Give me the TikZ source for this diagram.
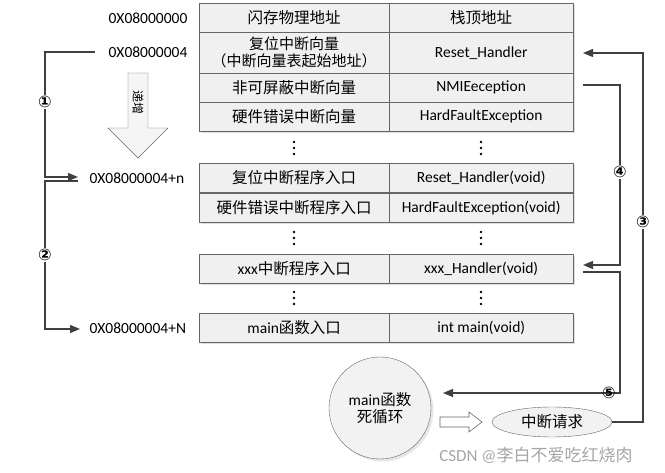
\documentclass[tikz,border=0pt]{standalone}
\usepackage{fontspec}
\setmainfont{Carlito}
\newfontfamily\cjk{Noto Sans CJK SC}
\newfontfamily\dvs{DejaVu Sans}
\usetikzlibrary{arrows.meta,shapes.geometric,shadows}
\begin{document}
\begin{tikzpicture}[x=1pt,y=-1pt,font=\fontsize{15.5}{17}\selectfont,
  cell/.style={draw=black!60,fill=black!6,minimum height=29pt,inner sep=0pt,anchor=north west,align=center,drop shadow={opacity=0.25,shadow xshift=1.5pt,shadow yshift=-1.5pt}},
  lc/.style={cell,minimum width=190pt},
  rc/.style={cell,minimum width=184pt},
  conn/.style={draw=black!75,line width=1.2pt,-{Triangle[length=10pt,width=8pt]}},
  num/.style={fill=white,inner sep=1pt,font=\dvs\bfseries\fontsize{16}{16}\selectfont},
  addr/.style={font=\fontsize{15.5}{17}\selectfont},
  dotc/.style={fill=black,circle,inner sep=0pt,minimum size=2.8pt}]
\useasboundingbox (0,0) rectangle (665,473);
% rows
\node[lc] (l1) at (199,3) {\cjk 闪存物理地址};
\node[rc] (r1) at (389,3) {\cjk 栈顶地址};
\node[lc,minimum height=41pt,font=\fontsize{15}{17}\selectfont] (l2) at (199,32) {\cjk 复位中断向量\\\cjk （中断向量表起始地址）};
\node[rc,minimum height=41pt] (r2) at (389,32) {Reset\_Handler};
\node[lc] (l3) at (199,73) {\cjk 非可屏蔽中断向量};
\node[rc] (r3) at (389,73) {NMIEeception};
\node[lc] (l4) at (199,102) {\cjk 硬件错误中断向量};
\node[rc] (r4) at (389,102) {HardFaultException};
\node[lc] (l5) at (199,163) {\cjk 复位中断程序入口};
\node[rc] (r5) at (389,163) {Reset\_Handler(void)};
\node[lc] (l6) at (199,193) {\cjk 硬件错误中断程序入口};
\node[rc] (r6) at (389,193) {HardFaultException(void)};
\node[lc] (l7) at (199,254) {xxx{\cjk 中断程序入口}};
\node[rc] (r7) at (389,254) {xxx\_Handler(void)};
\node[lc] (l8) at (199,313) {main{\cjk 函数入口}};
\node[rc] (r8) at (389,313) {int main(void)};
% dots
\foreach \y/\n in {148/a,238/b,298/c}{
  \foreach \x/\s in {294/l,481/r}{
    \node[dotc] (d\s\n1) at (\x,\y-6) {};
    \node[dotc] (d\s\n2) at (\x,\y) {};
    \node[dotc] (d\s\n3) at (\x,\y+6) {};
  }
}
% addresses
\node[addr] (a0) at (148,18) {0X08000000};
\node[addr] (a1) at (148,52) {0X08000004};
\node[addr,anchor=west] (a2) at (86,178) {0X08000004+n};
\node[addr,anchor=west] (a3) at (86,328) {0X08000004+N};
% increasing arrow
\draw[draw=black!60,fill=black!4] (128,73) -- (148,73) -- (148,128) -- (168,128) -- (138,158) -- (108,128) -- (128,128) -- cycle;
\node[rotate=-90,inner sep=0pt,font=\cjk\fontsize{12}{12}\selectfont] (inc) at (138,103) {递增};
% bottom
\node[circle,draw=black!60,fill=black!5,minimum size=102pt,align=center,inner sep=0pt,drop shadow={opacity=0.2}] (mainc) at (380,408) {main{\cjk 函数}\\\cjk 死循环};
\node[ellipse,draw=black!60,fill=black!5,minimum width=120pt,minimum height=30pt,inner sep=0pt] (irq) at (552,422) {\cjk 中断请求};
\draw[draw=black!60,line width=0.6pt] (440,417) -- (469,417) -- (469,412) -- (482,422) -- (469,432) -- (469,427) -- (440,427) -- cycle;
% connectors
\coordinate (c1s) at (95,52);
\coordinate (c1e) at (78,177);
\draw[conn] (c1s) -- (45,52) -- (45,177) -- (c1e);
\node[num] (n1) at (45,102) {①};
\coordinate (c2s) at (78,181);
\coordinate (c2e) at (80,329);
\draw[conn] (c2s) -- (45,181) -- (45,329) -- (c2e);
\node[num] (n2) at (45,255) {②};
\coordinate (c3e) at (583,53);
\draw[conn] (irq.east) -- (643,422) -- (643,53) -- (c3e);
\node[num] (n3) at (643,222) {③};
\coordinate (c4s) at (583,85);
\coordinate (c4e) at (583,265);
\draw[conn] (c4s) -- (620,85) -- (620,265) -- (c4e);
\node[num] (n4) at (620,172) {④};
\coordinate (c5s) at (583,272);
\coordinate (c5e) at (443,393);
\draw[conn] (c5s) -- (620,272) -- (620,393) -- (c5e);
\node[num,fill=none] (n5) at (609,393) {⑤};
\node[text=black!35,font=\fontsize{17}{18}\selectfont] (wm) at (536,455) {CSDN @{\cjk 李白不爱吃红烧肉}};
\end{tikzpicture}
\end{document}
